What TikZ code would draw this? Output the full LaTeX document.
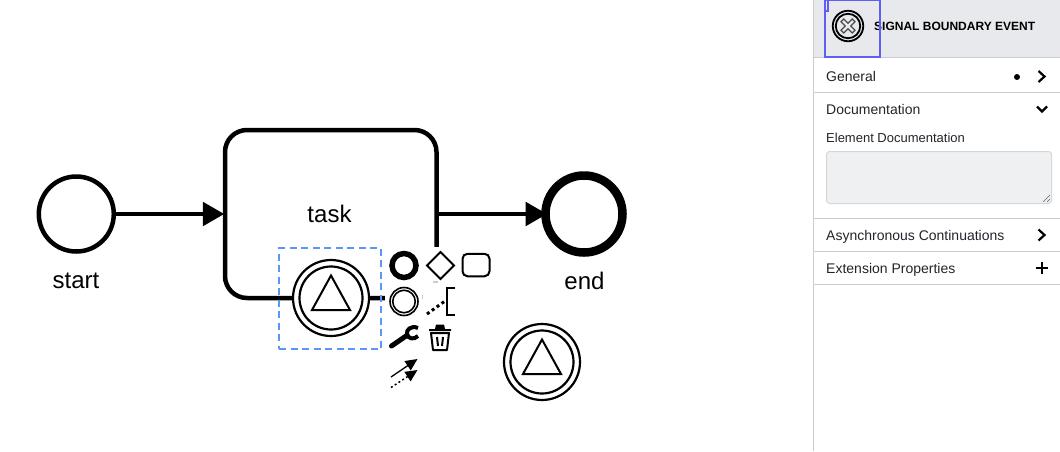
\documentclass[tikz,border=0pt]{standalone}
\usepackage{fontspec}
\setmainfont{Liberation Sans}
\usepackage{xcolor}
\usetikzlibrary{arrows.meta,calc,positioning,shapes.geometric}
\definecolor{panelgray}{HTML}{E8E9ED}
\definecolor{linegray}{HTML}{CCCCCC}
\definecolor{fieldgray}{HTML}{EFF0F2}
\definecolor{fieldline}{HTML}{D5D6DA}
\definecolor{selblue}{HTML}{5B96F5}
\definecolor{overlayblue}{HTML}{5F5FF5}
\definecolor{paneltext}{HTML}{22242A}
\begin{document}
\begin{tikzpicture}[
		x=1pt, y=-1pt,
		event/.style={circle, draw, line width=#1, inner sep=0pt, outer sep=0pt, minimum size=75pt},
		event/.default=4.5pt,
		ring/.style={circle, draw, line width=2.2pt, inner sep=0pt, minimum size=#1},
		bpmntext/.style={font=\fontsize{24}{28}\selectfont, inner sep=0pt},
		flow/.style={line width=4.2pt, shorten >=-1.5pt, -{Triangle[length=21.5pt,width=23.5pt]}},
		rowtext/.style={font=\fontsize{14}{17}\selectfont, text=paneltext, anchor=base west, inner sep=0pt},
		rowline/.style={draw=linegray, line width=1pt},
		chevron/.style={draw=black, line width=2.2pt, line join=miter},
		padicon/.style={draw=black, line width=2pt, fill=white, inner sep=0pt, outer sep=0pt},
		]
		\useasboundingbox (0,0) rectangle (1060,451);
		
		% The process
		\node[event] (start) at (76.3, 214) {};
		\node[rectangle, draw, line width=4.5pt, rounded corners=22pt, minimum width=211.5pt, minimum height=168pt, inner sep=0pt] (task) at (330.75, 214) {};
		\node[event=8.5pt, minimum size=77pt] (end) at (584, 214) {};
		\draw[flow] (start) -- (task);
		\draw[flow] (task) -- (end);
		\node[bpmntext] (startlabel) at (76, 280.5) {start};
		\node[bpmntext] (tasklabel) at (329.5, 213.5) {task};
		\node[bpmntext] (endlabel) at (584.5, 280.5) {end};
		
		% The context pad hides part of the task
		\fill[white] (385, 247) rectangle (500, 395);
		\fill[linegray] (433, 281) rectangle (438, 283);
		\fill[linegray] (421.5, 295) rectangle (423, 299);
		
		% Boundary event and its copy
		\node[ring=76pt, fill=white] (boundary) at (331, 298) {};
		\node[ring=63pt] (boundaryin) at (331, 298) {};
		\draw[line width=2pt, line join=miter] (331, 275.5) -- (350, 310) -- (312, 310) -- cycle;
		\node[ring=76pt, fill=white] (ghost) at (542, 362) {};
		\node[ring=63pt] (ghostin) at (542, 362) {};
		\draw[line width=2pt, line join=miter] (542, 339.5) -- (561, 374) -- (523, 374) -- cycle;
		\node[draw=selblue, line width=2.5pt, dash pattern=on 7pt off 4.5pt, minimum width=102pt, minimum height=101pt, inner sep=0pt] (selection) at (330, 298.5) {};
		
		% Context pad icons
		\node[circle, padicon, line width=5.5pt, minimum size=24pt] (padend) at (404, 265.5) {};
		\node[diamond, padicon, minimum size=27pt] (padgateway) at (440.5, 265.5) {};
		\node[rectangle, padicon, rounded corners=5pt, minimum width=27pt, minimum height=22.5pt] (padtask) at (476, 265) {};
		\node[circle, padicon, line width=1.6pt, minimum size=28pt] (padinter) at (404, 301.5) {};
		\node[circle, padicon, line width=1.6pt, minimum size=22.5pt] (padinterin) at (404, 301.5) {};
		\draw[line width=3pt, dash pattern=on 3pt off 3pt] (427, 314) -- (445, 301);
		\draw[line width=2pt] (455, 288) -- (447, 288) -- (447, 315) -- (455, 315);
		\draw[line width=5pt, line cap=round] (391.5, 346) -- (406, 336);
		\draw[line width=4pt] (418, 328) .. controls (411, 325) and (406, 330) .. (407, 334) .. controls (408, 339) and (414, 340) .. (418, 336);
		\fill (435, 329) -- (436, 324.5) -- (444, 324.5) -- (445, 329) -- (451, 329) -- (451, 331) -- (429, 331) -- (429, 329) -- cycle;
		\draw[line width=2pt, line join=round] (431, 333) -- (433, 350) -- (447, 350) -- (449, 333) -- cycle;
		\draw[line width=2pt] (437, 337) -- (438, 346);
		\draw[line width=2pt] (443, 337) -- (442, 346);
		\coordinate (padflowa) at (391, 377);
		\coordinate (padflowb) at (417.5, 359);
		\coordinate (padflowc) at (391, 387.5);
		\coordinate (padflowd) at (417.5, 370);
		\draw[line width=1.3pt, -{Triangle[length=12pt,width=11pt]}] (padflowa) -- (padflowb);
		\draw[line width=1.5pt, dash pattern=on 2pt off 2.5pt, -{Triangle[length=12pt,width=11pt]}] (padflowc) -- (padflowd);
		
		% The properties panel
		\fill[panelgray] (813, 0) rectangle (1060, 57);
		\draw[rowline] (813.5, 0) -- (813.5, 451);
		\draw[rowline] (814, 57.5) -- (1060, 57.5);
		\draw[rowline] (814, 92.5) -- (1060, 92.5);
		\draw[rowline] (814, 218.5) -- (1060, 218.5);
		\draw[rowline] (814, 251.5) -- (1060, 251.5);
		\draw[rowline] (814, 284.5) -- (1060, 284.5);
		
		% Panel header
		\node[circle, draw, line width=1.8pt, minimum size=30.5pt, inner sep=0pt] (headicon) at (848, 26) {};
		\node[circle, draw, line width=1.8pt, minimum size=24.5pt, inner sep=0pt] (headiconin) at (848, 26) {};
		\draw[line width=1.2pt, draw=black!70, fill=panelgray, rotate around={45:(848,26)}] (846, 18) -- (850, 18) -- (850, 24) -- (856, 24) -- (856, 28) -- (850, 28) -- (850, 34) -- (846, 34) -- (846, 28) -- (840, 28) -- (840, 24) -- (846, 24) -- cycle;
		\node[font=\bfseries\fontsize{12}{14}\selectfont, anchor=base west, inner sep=0pt, text=black] (headlabel) at (874, 30) {SIGNAL BOUNDARY EVENT};
		\draw[overlayblue, line width=1.5pt] (825, 0) rectangle (880, 57);
		\draw[overlayblue, line width=1.5pt] (824.5, 0) rectangle (828, 11);
		
		% Panel rows
		\node[rowtext] (general) at (826, 81) {General};
		\node[rowtext] (documentation) at (826, 114) {Documentation};
		\node[rowtext, font=\fontsize{13}{15}\selectfont] (elementdoc) at (826, 142) {Element Documentation};
		\node[rowtext] (async) at (826, 240) {Asynchronous Continuations};
		\node[rowtext] (extension) at (826, 273) {Extension Properties};
		\draw[draw=fieldline, fill=fieldgray, line width=1pt, rounded corners=3pt] (826.5, 151.5) rectangle (1051.5, 203.5);
		\draw[black!60, line width=0.6pt] (1043, 202) -- (1050, 195);
		\draw[black!60, line width=0.6pt] (1047, 202) -- (1050, 199);
		
		% Panel markers
		\fill (1017, 77) circle (3pt);
		\draw[chevron] (1038.5, 71) -- (1044.5, 76.5) -- (1038.5, 82);
		\draw[chevron] (1037, 106.5) -- (1042, 111.5) -- (1047, 106.5);
		\draw[chevron] (1038.5, 229.5) -- (1044.5, 235) -- (1038.5, 240.5);
		\draw[chevron] (1036, 268) -- (1048, 268);
		\draw[chevron] (1042, 262) -- (1042, 274);
	\end{tikzpicture}
\end{document}
